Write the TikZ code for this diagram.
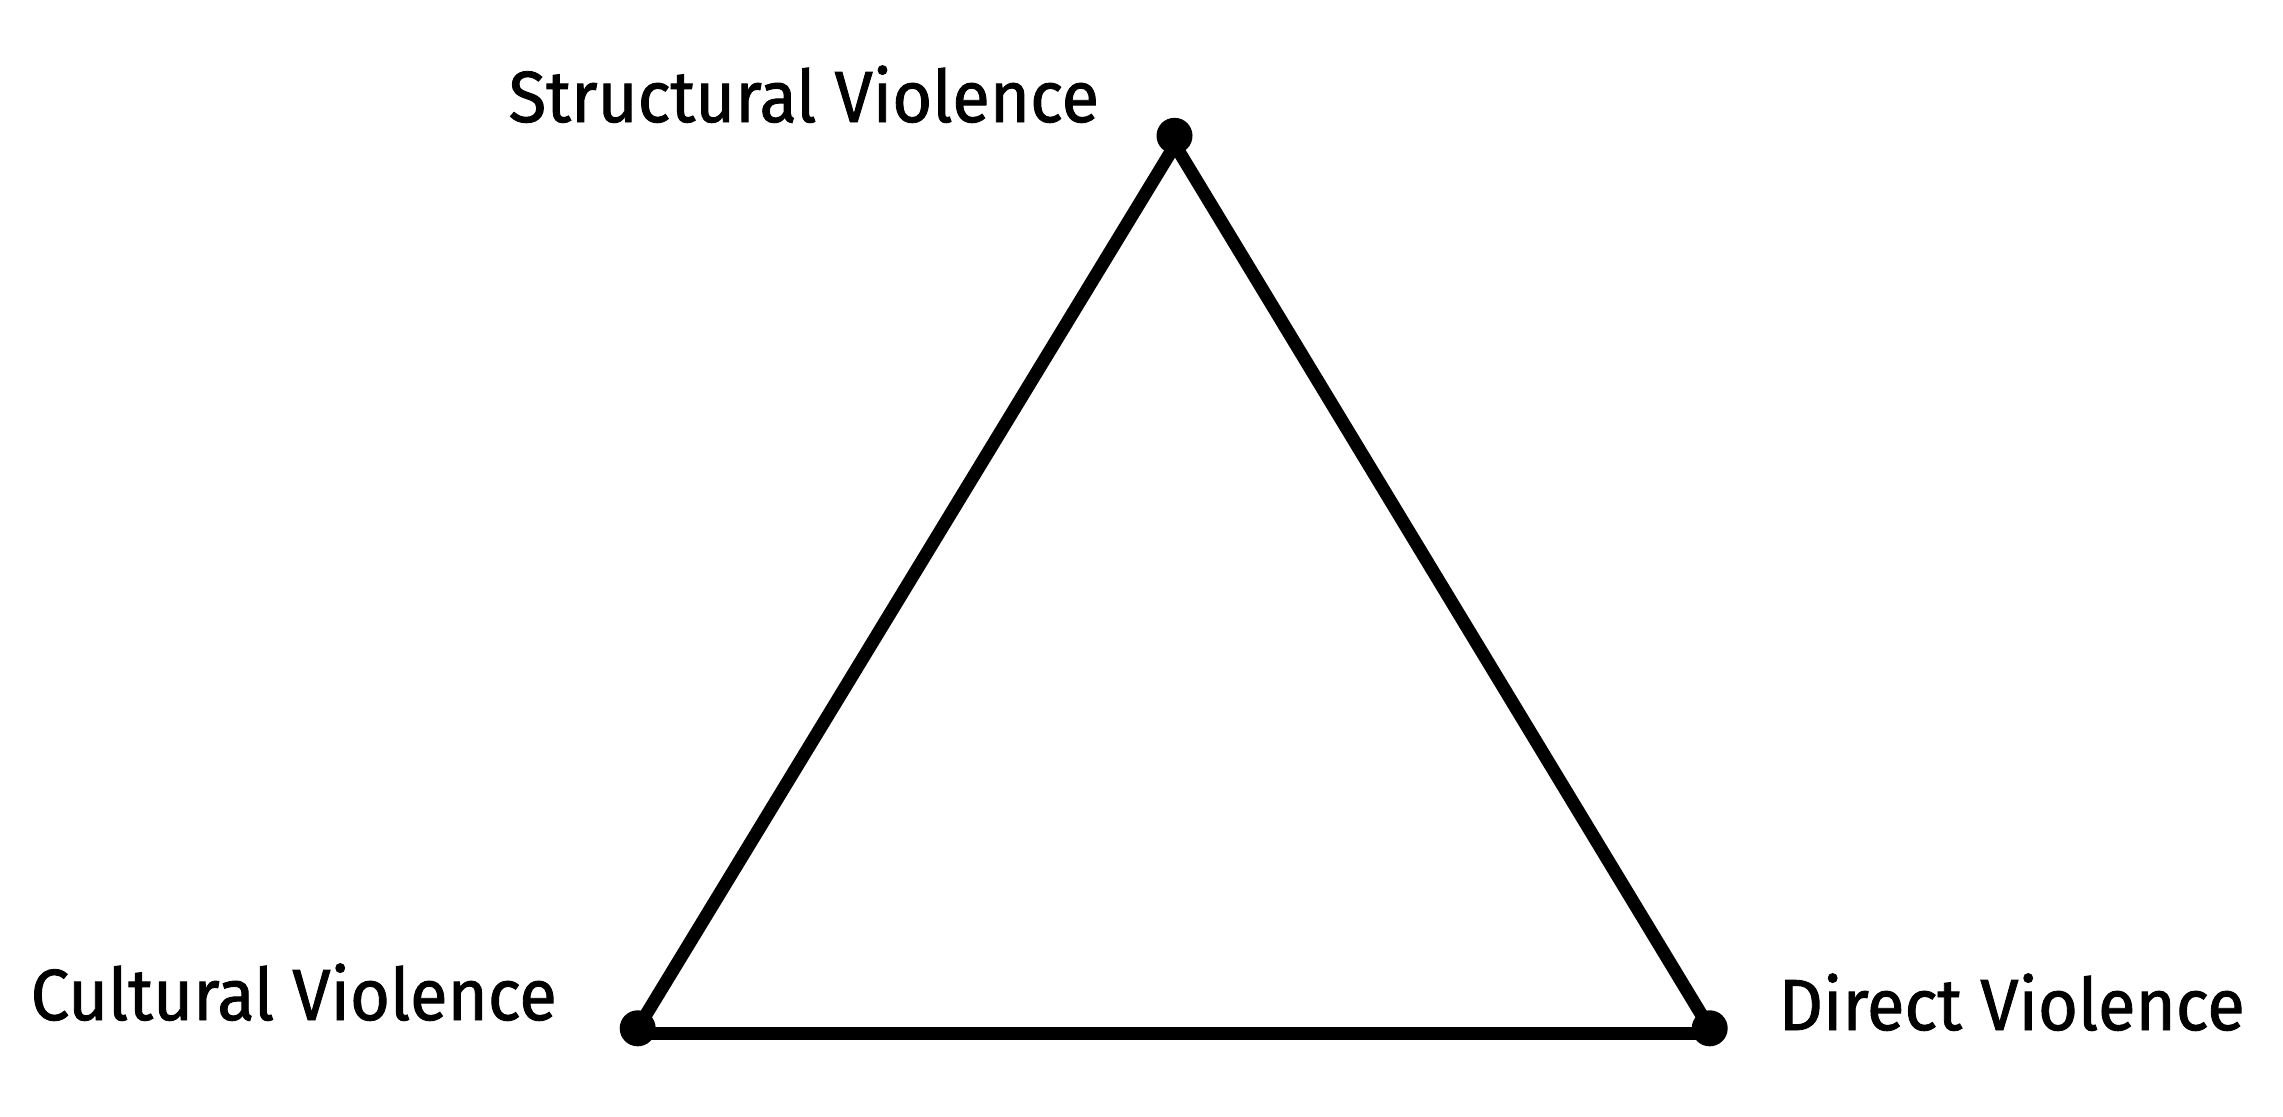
\documentclass[tikz,border=0pt]{standalone}
\usepackage{fontspec}
\newfontfamily\lblfont{Fira Sans}[FakeBold=1.2,FakeStretch=0.95]
\begin{document}
\begin{tikzpicture}[x=1cm,y=1cm,
  edge/.style={line width=3.7pt, line join=miter},
  vdot/.style={circle, fill=black, inner sep=0pt, minimum size=0.36cm},
  lbl/.style={inner sep=0pt, anchor=base west, font=\lblfont\fontsize{20.6pt}{24pt}\selectfont}]
\useasboundingbox (0,0) rectangle (22.83,-11.17);
\coordinate (T) at (11.75,-1.45);
\coordinate (L) at (6.377,-10.283);
\coordinate (R) at (17.097,-10.283);
\coordinate (BL) at (6.377,-10.33);
\coordinate (BR) at (17.097,-10.33);
\draw[edge] (L) -- (T) -- (R);
\draw[edge] (BL) -- (BR);
\node[vdot] (dt) at (11.745,-1.358) {};
\node[vdot] (dl) at (L) {};
\node[vdot] (dr) at (R) {};
\node[lbl] (ts) at (5.08,-1.22) {Structural Violence};
\node[lbl] (tc) at (0.30,-10.20) {Cultural Violence};
\node[lbl] (td) at (17.78,-10.30) {Direct Violence};
\end{tikzpicture}
\end{document}
